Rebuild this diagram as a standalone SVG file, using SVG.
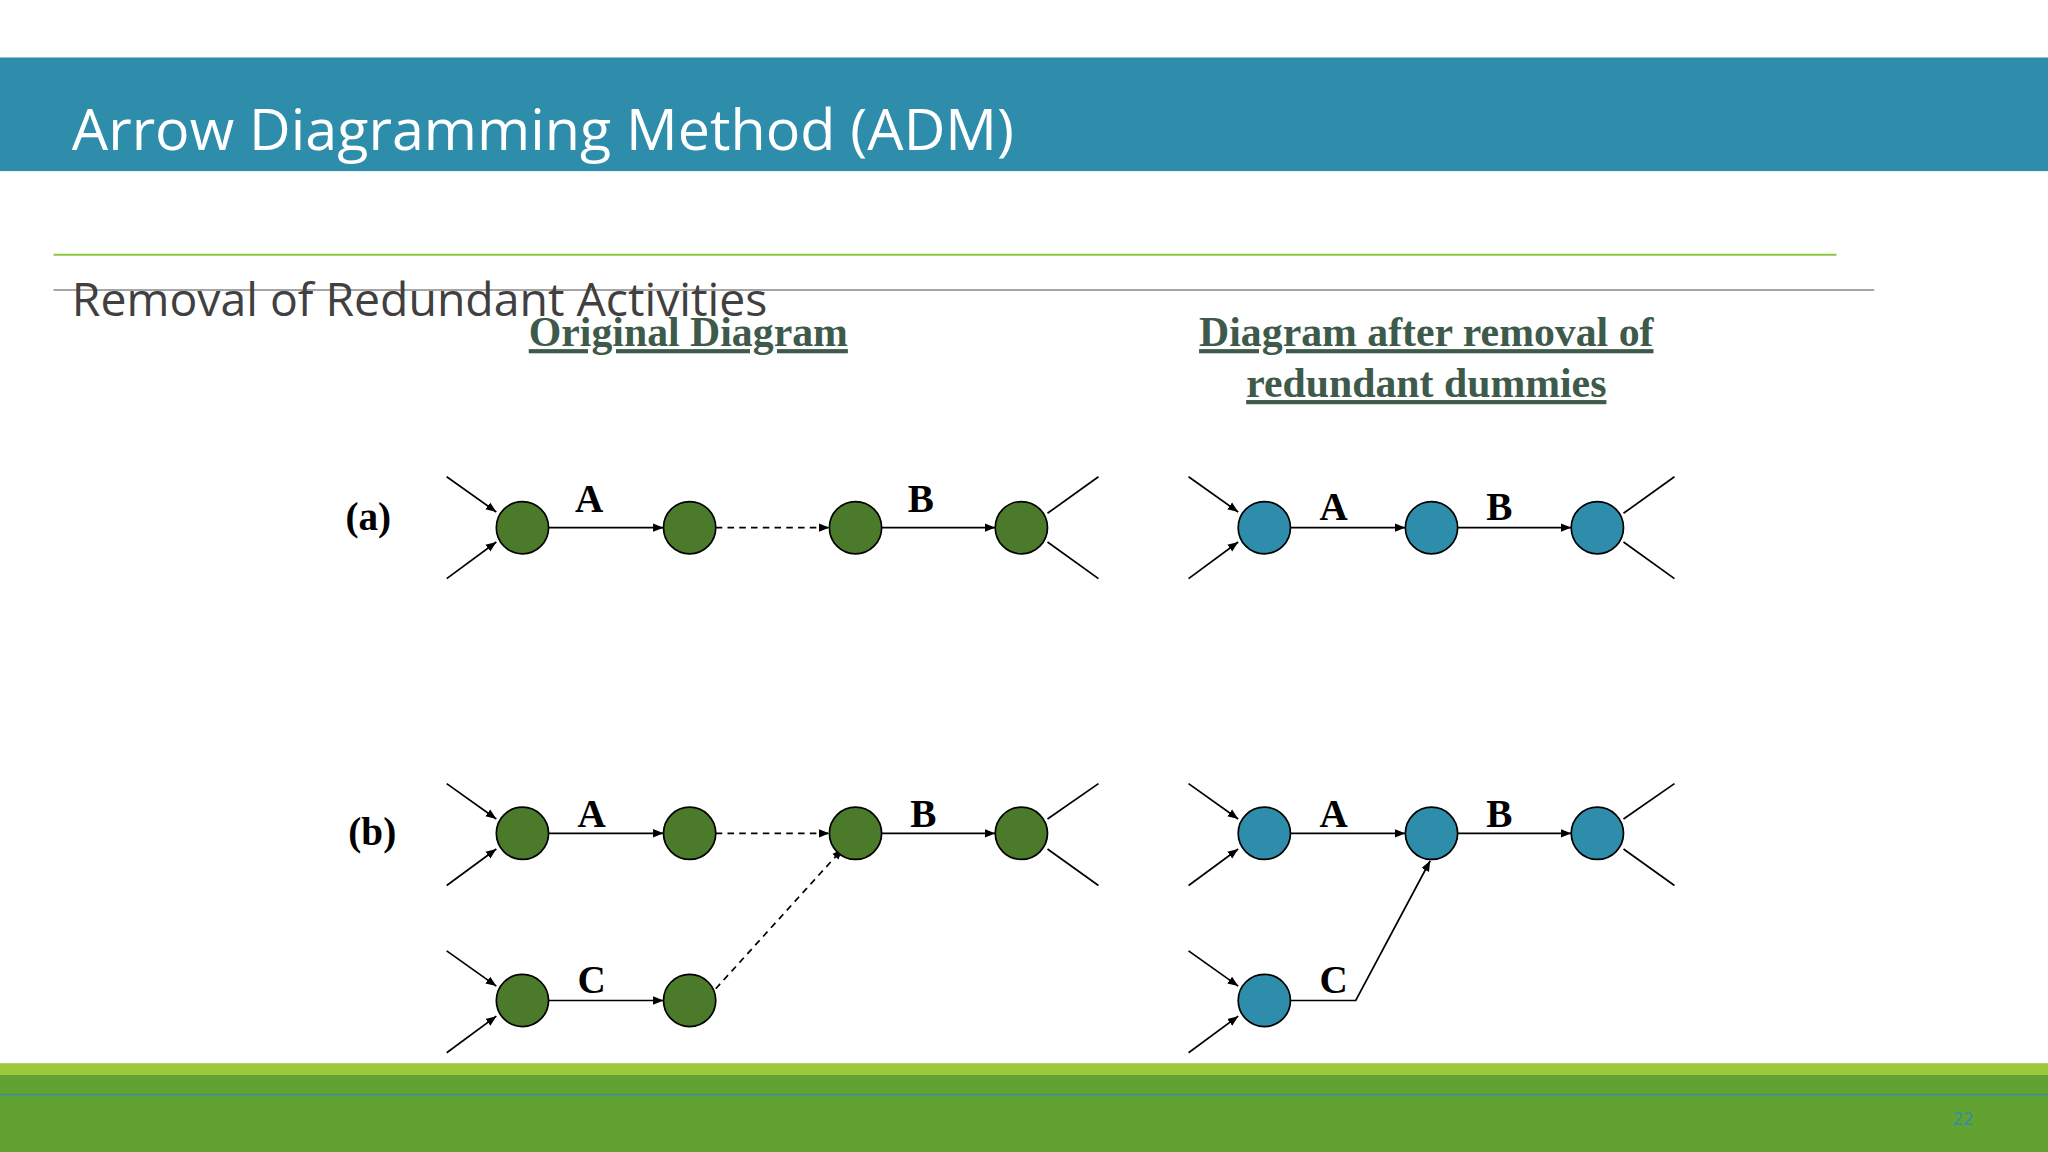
<svg xmlns="http://www.w3.org/2000/svg" width="2048" height="1152" viewBox="0 0 2048 1152">
<defs>
<marker id="ah" viewBox="0 0 10 10" refX="10" refY="5" markerWidth="8" markerHeight="8" orient="auto" markerUnits="userSpaceOnUse"><path d="M0,1 L10,5 L0,9 z" fill="#000"/></marker>
<style>
.g{fill:#4A7A2A;stroke:#000;stroke-width:1.3}
.b{fill:#2E8DAB;stroke:#000;stroke-width:1.3}
.l{stroke:#000;stroke-width:1.3;fill:none}
.d{stroke:#000;stroke-width:1.3;fill:none;stroke-dasharray:5,4}
.lab{font-family:"Liberation Serif",serif;font-weight:bold;font-size:30px;fill:#000;text-anchor:middle}
.hd{font-family:"Liberation Serif",serif;font-weight:bold;font-size:32px;fill:#3E5A4A;text-anchor:middle;text-decoration:underline}
</style>
</defs>
<rect width="2048" height="1152" fill="#fff"/>
<g transform="scale(1.30612)">
<rect x="0" y="44" width="1568" height="87" fill="#2E8DAB"/>
<text x="55" y="115" font-family="Open Sans, sans-serif" font-size="44" fill="#fff">Arrow Diagramming Method (ADM)</text>
<line x1="41" y1="195" x2="1406" y2="195" stroke="#8DC63F" stroke-width="1.5"/>
<line x1="41" y1="222" x2="1435" y2="222" stroke="#A6A6A6" stroke-width="1.5"/>
<text x="55" y="242" font-family="Open Sans, sans-serif" font-size="35.5" fill="#404040">Removal of Redundant Activities</text>
<text class="hd" x="527" y="265">Original Diagram</text>
<text class="hd" x="1092" y="265">Diagram after removal of</text>
<text class="hd" x="1092" y="304">redundant dummies</text>
<g id="connectors">
<line class="l" x1="342" y1="365" x2="380" y2="392" marker-end="url(#ah)"/>
<line class="l" x1="342" y1="443" x2="380" y2="415" marker-end="url(#ah)"/>
<line class="l" x1="420" y1="404" x2="508" y2="404" marker-end="url(#ah)"/>
<line class="d" x1="548" y1="404" x2="635" y2="404" marker-end="url(#ah)"/>
<line class="l" x1="675" y1="404" x2="762" y2="404" marker-end="url(#ah)"/>
<line class="l" x1="802" y1="393" x2="841" y2="365"/>
<line class="l" x1="802" y1="415" x2="841" y2="443"/>
<line class="l" x1="910" y1="365" x2="948" y2="392" marker-end="url(#ah)"/>
<line class="l" x1="910" y1="443" x2="948" y2="415" marker-end="url(#ah)"/>
<line class="l" x1="988" y1="404" x2="1076" y2="404" marker-end="url(#ah)"/>
<line class="l" x1="1116" y1="404" x2="1203" y2="404" marker-end="url(#ah)"/>
<line class="l" x1="1243" y1="393" x2="1282" y2="365"/>
<line class="l" x1="1243" y1="415" x2="1282" y2="443"/>
<line class="l" x1="342" y1="600" x2="380" y2="627" marker-end="url(#ah)"/>
<line class="l" x1="342" y1="678" x2="380" y2="650" marker-end="url(#ah)"/>
<line class="l" x1="420" y1="638" x2="508" y2="638" marker-end="url(#ah)"/>
<line class="d" x1="548" y1="638" x2="635" y2="638" marker-end="url(#ah)"/>
<line class="l" x1="675" y1="638" x2="762" y2="638" marker-end="url(#ah)"/>
<line class="l" x1="802" y1="627" x2="841" y2="600"/>
<line class="l" x1="802" y1="650" x2="841" y2="678"/>
<line class="l" x1="342" y1="728" x2="380" y2="755" marker-end="url(#ah)"/>
<line class="l" x1="342" y1="806" x2="380" y2="778" marker-end="url(#ah)"/>
<line class="l" x1="420" y1="766" x2="508" y2="766" marker-end="url(#ah)"/>
<line class="d" x1="548" y1="757" x2="645" y2="650" marker-end="url(#ah)"/>
<line class="l" x1="910" y1="600" x2="948" y2="627" marker-end="url(#ah)"/>
<line class="l" x1="910" y1="678" x2="948" y2="650" marker-end="url(#ah)"/>
<line class="l" x1="988" y1="638" x2="1076" y2="638" marker-end="url(#ah)"/>
<line class="l" x1="1116" y1="638" x2="1203" y2="638" marker-end="url(#ah)"/>
<line class="l" x1="1243" y1="627" x2="1282" y2="600"/>
<line class="l" x1="1243" y1="650" x2="1282" y2="678"/>
<line class="l" x1="910" y1="728" x2="948" y2="755" marker-end="url(#ah)"/>
<line class="l" x1="910" y1="806" x2="948" y2="778" marker-end="url(#ah)"/>
<polyline class="l" points="988,766 1038,766 1095,659" marker-end="url(#ah)"/>
</g>
<g id="nodes-a-orig"><circle class="g" cx="400" cy="404" r="20"/><circle class="g" cx="528" cy="404" r="20"/><circle class="g" cx="655" cy="404" r="20"/><circle class="g" cx="782" cy="404" r="20"/></g>
<g id="nodes-a-new"><circle class="b" cx="968" cy="404" r="20"/><circle class="b" cx="1096" cy="404" r="20"/><circle class="b" cx="1223" cy="404" r="20"/></g>
<g id="nodes-b-orig"><circle class="g" cx="400" cy="638" r="20"/><circle class="g" cx="528" cy="638" r="20"/><circle class="g" cx="655" cy="638" r="20"/><circle class="g" cx="782" cy="638" r="20"/><circle class="g" cx="400" cy="766" r="20"/><circle class="g" cx="528" cy="766" r="20"/></g>
<g id="nodes-b-new"><circle class="b" cx="968" cy="638" r="20"/><circle class="b" cx="1096" cy="638" r="20"/><circle class="b" cx="1223" cy="638" r="20"/><circle class="b" cx="968" cy="766" r="20"/></g>
<g id="labels">
<text class="lab" x="282" y="406">(a)</text>
<text class="lab" x="285" y="647">(b)</text>
<text class="lab" x="451" y="392">A</text><text class="lab" x="705" y="392">B</text>
<text class="lab" x="1021" y="398">A</text><text class="lab" x="1148" y="398">B</text>
<text class="lab" x="453" y="633">A</text><text class="lab" x="707" y="633">B</text>
<text class="lab" x="453" y="760">C</text>
<text class="lab" x="1021" y="633">A</text><text class="lab" x="1148" y="633">B</text>
<text class="lab" x="1021" y="760">C</text>
</g>
<rect x="0" y="814" width="1568" height="9" fill="#9BC93A"/>
<rect x="0" y="823" width="1568" height="59" fill="#62A232"/>
<line x1="0" y1="838" x2="1568" y2="838" stroke="#2E8DAB" stroke-width="1"/>
<text x="1503" y="861" font-family="Open Sans, sans-serif" font-size="14" fill="#2E8DAB" text-anchor="middle">22</text>
</g>
</svg>
